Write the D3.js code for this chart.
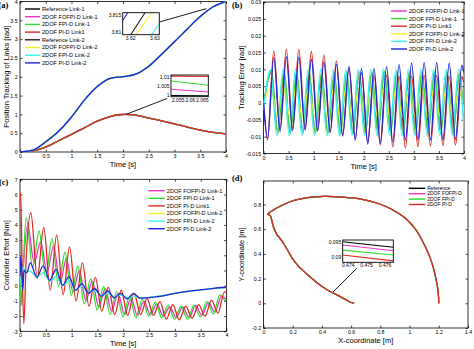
<!DOCTYPE html>
<html>
<head>
<meta charset="utf-8">
<script src="https://cdn.jsdelivr.net/npm/d3@7"></script>
<style>
  body { margin: 0; background: #fff; }
  svg { display: block; font-family: "Liberation Sans", Arial, sans-serif; }
</style>
</head>
<body>
<svg id="fig" width="474" height="349"></svg>
<script>
// ---- (a) position tracking, sampled points ----
const timeA = [0, 0.25, 0.5, 0.75, 1, 1.25, 1.5, 1.75, 1.9, 2.05, 2.25, 2.5, 2.75, 3, 3.25, 3.5, 3.75, 4];
const link1Pos = [0, 0.03, 0.13, 0.3, 0.47, 0.64, 0.82, 0.94, 0.99, 1.0, 0.98, 0.9, 0.83, 0.75, 0.66, 0.58, 0.52, 0.48];
const link2Pos = [0, 0.05, 0.27, 0.55, 0.93, 1.38, 1.74, 1.96, 1.99, 2.01, 2.07, 2.28, 2.6, 2.93, 3.27, 3.6, 3.86, 4.0];

// zoom windows of (a): [x, y] end points of each line inside the window
const zoomA1 = {
  ref2:   [[3.6200, 3.8093], [3.6259, 3.8157]],
  fofpi2: [[3.6222, 3.8093], [3.6286, 3.8157]],
  fpi2:   [[3.6286, 3.8093], [3.6350, 3.8157]],
  pid2:   [[3.6150, 3.8115], [3.6190, 3.8160]]
};
const zoomA2 = {
  ref1:   [[2.052, 1.0001], [2.0675, 0.9999]],
  fofpi1: [[2.052, 1.0035], [2.0675, 1.0020]],
  fpi1:   [[2.052, 1.0080], [2.0675, 1.0057]],
  pid1:   [[2.052, 1.0107], [2.0675, 1.0105]]
};

// ---- (b) tracking error: oscillation extrema, half period apart ----
const halfPeriod = 0.125;
const errPid1Trough = [-0.011, -0.0078, -0.0075, -0.0078, -0.008, -0.0085, -0.0095, -0.0105, -0.0115, -0.0125, -0.013, -0.0133, -0.013, -0.0128, -0.0127, -0.0125];
const errPid1Peak   = [0.0155, 0.016, 0.016, 0.0153, 0.0143, 0.0125, 0.0105, 0.009, 0.0083, 0.0082, 0.008, 0.008, 0.0082, 0.0082, 0.008, 0.0078];
const errPid2Trough = [-0.0105, -0.0085, -0.0082, -0.008, -0.0083, -0.0088, -0.0098, -0.011, -0.0122, -0.012, -0.0115, -0.011, -0.011, -0.011, -0.011, -0.0108];
const errPid2Peak   = [0.0135, 0.0137, 0.0136, 0.013, 0.0122, 0.0115, 0.0108, 0.0102, 0.0102, 0.0108, 0.0114, 0.0118, 0.012, 0.012, 0.0118, 0.0112];
const errFpi2Peak   = [0.0098, 0.0100, 0.0101, 0.0100, 0.0100, 0.0099, 0.0100, 0.0100, 0.0100, 0.0101, 0.0100, 0.0100, 0.0101, 0.0100, 0.0100, 0.0100];
const errFpi2Trough = [-0.0097, -0.0098, -0.0097, -0.0097, -0.0098, -0.0098, -0.0097, -0.0097, -0.0098, -0.0098, -0.0097, -0.0097, -0.0098, -0.0097, -0.0097];
const errFpi1Peak   = [0.0095, 0.0096, 0.0095, 0.0094, 0.0093, 0.0092, 0.0092, 0.0093, 0.0094, 0.0095, 0.0095, 0.0094, 0.0094, 0.0093, 0.0093, 0.0092];
const errFpi1Trough = [-0.0092, -0.0092, -0.0091, -0.0091, -0.0092, -0.0093, -0.0093, -0.0092, -0.0092, -0.0091, -0.0092, -0.0093, -0.0092, -0.0092, -0.0091];
const errFofpi1Peak   = [0.009, 0.009, 0.0089, 0.0089, 0.0088, 0.0088, 0.0088, 0.0089, 0.009, 0.009, 0.009, 0.0089, 0.0089, 0.0088, 0.0088, 0.0088];
const errFofpi1Trough = [-0.0088, -0.0088, -0.0087, -0.0087, -0.0088, -0.0088, -0.0088, -0.0088, -0.0088, -0.0087, -0.0088, -0.0088, -0.0088, -0.0087, -0.0087];
const errFofpi2Peak   = [0.0043, 0.0044, 0.0043, 0.0043, 0.0043, 0.0042, 0.0043, 0.0043, 0.0043, 0.0044, 0.0043, 0.0043, 0.0043, 0.0042, 0.0043, 0.0043];
const errFofpi2Trough = [-0.004, -0.004, -0.0041, -0.004, -0.004, -0.004, -0.0041, -0.004, -0.004, -0.004, -0.0041, -0.004, -0.004, -0.004, -0.004];

// ---- (c) controller effort: start-up transient, then extrema ----
const uPid1Head = [[0, 5.6], [0.012, 6.1], [0.04, 1.5], [0.075, -2.5], [0.12, 1.8]];
const uPid1Peak = [4.8, 3.85, 3.35, 2.55, 1.5, 0.55, -0.1, -0.3, -0.5, -0.85, -1.05, -1.25, -1.35, -1.25, -0.95, -0.4];
const uPid1Trough = [0.5, -0.3, -0.6, -1.0, -1.35, -1.67, -1.9, -1.95, -1.9, -1.95, -2.2, -2.25, -2.15, -2.0, -1.8];
const uFpi1Head = [[0, 0.3], [0.03, -1.3], [0.06, 1.0]];
const uFpi1Peak = [4.5, 3.6, 3.1, 2.2, 1.3, 0.45, -0.05, -0.4, -0.7, -0.9, -1.1, -1.3, -1.35, -1.3, -1.05, -0.6];
const uFpi1Trough = [1.2, 0.6, -0.05, -0.65, -1.2, -1.6, -1.9, -2.05, -2.1, -2.0, -2.1, -2.2, -2.2, -2.05, -1.85, -1.0];
const uFofpi1Head = [[0, 0.3], [0.03, -1.0], [0.07, 1.5]];
const uFofpi1Peak = [4.0, 2.9, 2.6, 1.8, 1.0, 0.3, -0.2, -0.5, -0.8, -1.0, -1.2, -1.4, -1.4, -1.3, -1.1, -0.7];
const uFofpi1Trough = [1.5, 0.9, 0.2, -0.4, -1.0, -1.4, -1.7, -1.9, -1.95, -1.9, -2.0, -2.1, -2.1, -1.95, -1.75];
const uPid2Head = [[0, 0.6], [0.012, 1.9], [0.03, 1.3], [0.05, -0.3], [0.08, 1.0], [0.13, 0.85]];
const uPid2Peak = [1.5, 1.3, 1.08, 0.6, 0.13, -0.2, -0.35, -0.5, -0.5];
const uPid2Trough = [0.55, 0.35, 0.02, -0.3, -0.5, -0.7, -0.8, -0.87, -0.82];
const uPid2Tail = [[2.45, -0.8], [2.75, -0.68], [3, -0.5], [3.25, -0.37], [3.5, -0.27], [3.75, -0.17], [4, -0.1]];
const uFpi2Head = [[0, 0.2], [0.02, 0.6], [0.05, 1.2], [0.1, 1.0]];
const uFpi2Peak = [0.95, 0.85, 0.6, 0.3, 0.0, -0.3, -0.5, -0.6, -0.68];
const uFpi2Trough = [0.6, 0.3, 0.0, -0.3, -0.5, -0.65, -0.75, -0.8, -0.8];
const uFpi2Tail = [[2.45, -0.78], [2.75, -0.65], [3, -0.5], [3.25, -0.38], [3.5, -0.28], [3.75, -0.18], [4, -0.12]];

// ---- (d) end-effector path in the x-y plane ----
const pathX = [1.2, 1.195, 1.18, 1.16, 1.13, 1.09, 1.04, 0.97, 0.88, 0.78, 0.66, 0.54, 0.41, 0.3, 0.2, 0.12, 0.06, 0.03,
  0.046, 0.057, 0.069, 0.09, 0.126, 0.16, 0.194, 0.24, 0.3, 0.366, 0.435, 0.5, 0.55, 0.595, 0.62];
const pathY = [0, 0.1, 0.2, 0.3, 0.4, 0.5, 0.6, 0.69, 0.76, 0.81, 0.845, 0.86, 0.865, 0.855, 0.83, 0.79, 0.75, 0.72,
  0.71, 0.67, 0.615, 0.56, 0.506, 0.44, 0.37, 0.30, 0.234, 0.166, 0.11, 0.07, 0.038, 0.008, 0];
const zoomD = {
  ref:   [[0.4737, 0.0952], [0.47645, 0.0933]],
  fofpi: [[0.4737, 0.0941], [0.47645, 0.0921]],
  fpi:   [[0.4737, 0.0923], [0.47645, 0.0906]],
  pid:   [[0.4737, 0.0906], [0.47645, 0.0886]]
};

const ticksT = d3.range(0, 4.01, 0.5);
const ticksPos = d3.range(0, 4.01, 0.5);
const ticksErr = [-0.015, -0.01, -0.005, 0, 0.005, 0.01, 0.015, 0.02, 0.025, 0.03];
const ticksU = d3.range(-3, 7.01, 1);
const ticksDX = [0, 0.2, 0.4, 0.6, 0.8, 1, 1.2, 1.4];
const ticksDY = [-0.2, 0, 0.2, 0.4, 0.6, 0.8];

const col = {
  ref1: '#000000', fofpi1: '#f032c8', fpi1: '#2ee02e', pid1: '#dd2a22',
  ref2: '#2a1a14', fofpi2: '#f2ee26', fpi2: '#34f0ee', pid2: '#1f24d8'
};

const svg = d3.select('#fig');
const fmt = d => String(+d.toFixed(4));

// interleave two lists of extrema into [t, v] points
function wave(head, tFirst, first, second, tail) {
  const pts = head.slice();
  for (let i = 0; i < first.length + second.length; i++) {
    const v = i % 2 === 0 ? first[i / 2] : second[(i - 1) / 2];
    if (v === undefined) break;
    const t = tFirst + i * halfPeriod;
    if (t > 4) break;
    pts.push([t, v]);
  }
  return pts.concat(tail);
}

function panel(id, box, xDom, yDom, xTicks, yTicks, xLabel, yLabel, yLabelX, tag) {
  const g = svg.append('g').attr('id', id);
  const x = d3.scaleLinear().domain(xDom).range([box.x0, box.x1]);
  const y = d3.scaleLinear().domain(yDom).range([box.y1, box.y0]);
  const axes = [
    [d3.axisBottom(x).tickValues(xTicks).tickFormat(fmt), `translate(0,${box.y1})`],
    [d3.axisTop(x).tickValues(xTicks).tickFormat(''), `translate(0,${box.y0})`],
    [d3.axisLeft(y).tickValues(yTicks).tickFormat(fmt), `translate(${box.x0},0)`],
    [d3.axisRight(y).tickValues(yTicks).tickFormat(''), `translate(${box.x1},0)`]
  ];
  axes.forEach(([ax, tr]) => {
    const a = g.append('g').attr('transform', tr)
      .call(ax.tickSizeInner(-2.5).tickSizeOuter(0).tickPadding(2.3));
    a.select('.domain').remove();
    a.attr('font-size', 5.3).attr('font-family', null);
    a.selectAll('line').attr('stroke-width', 0.7);
  });
  g.append('rect')
    .attr('x', box.x0).attr('y', box.y0)
    .attr('width', box.x1 - box.x0).attr('height', box.y1 - box.y0)
    .attr('fill', 'none').attr('stroke', '#000').attr('stroke-width', 0.8);
  g.append('text').attr('x', (box.x0 + box.x1) / 2).attr('y', box.y1 + 15)
    .attr('text-anchor', 'middle').attr('font-size', 7.5).text(xLabel);
  g.append('text')
    .attr('transform', `translate(${yLabelX},${(box.y0 + box.y1) / 2}) rotate(-90)`)
    .attr('text-anchor', 'middle').attr('font-size', 7.5).text(yLabel);
  g.append('text').attr('x', tag[0]).attr('y', tag[1])
    .attr('font-family', '"Liberation Serif", "Times New Roman", serif')
    .attr('font-weight', 'bold').attr('font-size', 8.5).text(tag[2]);
  const clipId = id + '-clip';
  g.append('clipPath').attr('id', clipId).append('rect')
    .attr('x', box.x0).attr('y', box.y0)
    .attr('width', box.x1 - box.x0).attr('height', box.y1 - box.y0);
  const plot = g.append('g').attr('clip-path', `url(#${clipId})`);
  return {g, x, y, plot};
}

function drawLines(p, series, width, curve) {
  const line = d3.line().x(d => p.x(d[0])).y(d => p.y(d[1])).curve(curve);
  p.plot.selectAll(null).data(series).enter().append('path')
    .attr('d', d => line(d.pts))
    .attr('fill', 'none')
    .attr('stroke', d => d.color)
    .attr('stroke-width', width)
    .attr('stroke-linejoin', 'round');
}

function legend(g, x, y, dy, names, colors, size, sampleW) {
  names.forEach((n, i) => {
    g.append('line').attr('x1', x).attr('x2', x + sampleW)
      .attr('y1', y + i * dy).attr('y2', y + i * dy)
      .attr('stroke', colors[i]).attr('stroke-width', 1.4);
    g.append('text').attr('x', x + sampleW + 2).attr('y', y + i * dy)
      .attr('dy', '0.35em').attr('font-size', size).text(n);
  });
}

// small magnified window with its own scales
function zoomBox(g, rect, xDom, yDom, lines, xTickVals, yTickVals, connectTo) {
  const x = d3.scaleLinear().domain(xDom).range([rect.x0, rect.x1]);
  const y = d3.scaleLinear().domain(yDom).range([rect.y1, rect.y0]);
  g.append('line')
    .attr('x1', connectTo[0][0]).attr('y1', connectTo[0][1])
    .attr('x2', connectTo[1][0]).attr('y2', connectTo[1][1])
    .attr('stroke', '#000').attr('stroke-width', 0.9);
  g.append('rect').attr('x', rect.x0).attr('y', rect.y0)
    .attr('width', rect.x1 - rect.x0).attr('height', rect.y1 - rect.y0)
    .attr('fill', '#fff');
  const cid = 'clip' + Math.round(rect.x0) + Math.round(rect.y0);
  g.append('clipPath').attr('id', cid).append('rect')
    .attr('x', rect.x0).attr('y', rect.y0)
    .attr('width', rect.x1 - rect.x0).attr('height', rect.y1 - rect.y0);
  const line = d3.line().x(d => x(d[0])).y(d => y(d[1]));
  g.append('g').attr('clip-path', `url(#${cid})`)
    .selectAll(null).data(lines).enter().append('path')
    .attr('d', d => line(d.pts)).attr('fill', 'none')
    .attr('stroke', d => d.color).attr('stroke-width', 1.1);
  g.append('rect').attr('x', rect.x0).attr('y', rect.y0)
    .attr('width', rect.x1 - rect.x0).attr('height', rect.y1 - rect.y0)
    .attr('fill', 'none').attr('stroke', '#000').attr('stroke-width', 0.9);
  xTickVals.forEach(v => {
    g.append('text').attr('x', x(v)).attr('y', rect.y1 + 5)
      .attr('text-anchor', 'middle').attr('font-size', 5).text(fmt(v));
  });
  yTickVals.forEach(v => {
    g.append('text').attr('x', rect.x0 - 1.5).attr('y', y(v)).attr('dy', '0.35em')
      .attr('text-anchor', 'end').attr('font-size', 5).text(fmt(v));
  });
}

// ---------- (a) ----------
const pa = panel('pa', {x0: 20, x1: 226, y0: 1.5, y1: 152}, [0, 4], [0, 4], ticksT, ticksPos,
  'Time [s]', 'Position Tracking of Links [rad]', 8.5, [-1.5, 8, '(a)']);
const pos1 = timeA.map((t, i) => [t, link1Pos[i]]);
const pos2 = timeA.map((t, i) => [t, link2Pos[i]]);
drawLines(pa, [
  {pts: pos1, color: col.ref1}, {pts: pos1, color: col.fofpi1}, {pts: pos1, color: col.fpi1}, {pts: pos1, color: col.pid1},
  {pts: pos2, color: col.ref2}, {pts: pos2, color: col.fofpi2}, {pts: pos2, color: col.fpi2}, {pts: pos2, color: col.pid2}
], 1.3, d3.curveMonotoneX);
legend(pa.g, 25, 9, 7.7,
  ['Reference Link-1', '2DOF FOFPI-D Link-1', '2DOF FPI-D Link-1', '2DOF PI-D Link1',
   'Reference Link-2', '2DOF FOFPI-D Link-2', '2DOF FPI-D Link-2', '2DOF PI-D Link-2'],
  [col.ref1, col.fofpi1, col.fpi1, col.pid1, col.ref2, col.fofpi2, col.fpi2, col.pid2], 5.6, 15);
zoomBox(pa.g, {x0: 122.7, x1: 159.3, y0: 12.7, y1: 34.7}, [3.6167, 3.6318], [3.8093, 3.8157],
  [{pts: zoomA1.pid2, color: col.pid2}, {pts: zoomA1.ref2, color: col.ref2},
   {pts: zoomA1.fofpi2, color: col.fofpi2}, {pts: zoomA1.fpi2, color: col.fpi2}],
  [3.62, 3.63], [3.81, 3.815],
  [[159.3, 22], [pa.x(3.62), pa.y(3.81)]]);
zoomBox(pa.g, {x0: 171, x1: 208.3, y0: 75, y1: 96.7}, [2.052, 2.0675], [0.99946, 1.0113],
  [{pts: zoomA2.pid1, color: col.pid1}, {pts: zoomA2.fpi1, color: col.fpi1},
   {pts: zoomA2.fofpi1, color: col.fofpi1}, {pts: zoomA2.ref1, color: col.ref1}],
  [2.055, 2.06, 2.065], [1, 1.005, 1.01],
  [[167, 98.5], [pa.x(2.06), pa.y(1.0)]]);

// ---------- (b) ----------
const pb = panel('pb', {x0: 263.5, x1: 464, y0: 2, y1: 153.5}, [0, 4], [-0.015, 0.03], ticksT, ticksErr,
  'Time [s]', 'Tracking Error [rad]', 244, [232, 8, '(b)']);
drawLines(pb, [
  {pts: wave([[0, 0]], 0.16, errFofpi1Peak, errFofpi1Trough, [[4, -0.006]]), color: col.fofpi1},
  {pts: wave([[0, -0.001]], 0.16, errFpi1Peak, errFpi1Trough, [[4, -0.006]]), color: col.fpi1},
  {pts: wave([[0, 0.0012]], 0.08, errPid1Trough, errPid1Peak, [[4, 0.006]]), color: col.pid1},
  {pts: wave([[0, 0]], 0.15, errFofpi2Peak, errFofpi2Trough, [[4, -0.003]]), color: col.fofpi2},
  {pts: wave([[0, -0.002]], 0.14, errFpi2Peak, errFpi2Trough, [[4, -0.008]]), color: col.fpi2},
  {pts: wave([[0, 0]], 0.08, errPid2Trough, errPid2Peak, [[4, 0.009]]), color: col.pid2}
], 1.3, d3.curveMonotoneX);
legend(pb.g, 391, 11, 7.6,
  ['2DOF FOFPI-D Link-1', '2DOF FPI-D Link-1', '2DOF PI-D Link1',
   '2DOF FOFPI-D Link-2', '2DOF FPI-D Link-2', '2DOF PI-D Link-2'],
  [col.fofpi1, col.fpi1, col.pid1, col.fofpi2, col.fpi2, col.pid2], 5.6, 16);

// ---------- (c) ----------
const pc = panel('pc', {x0: 20, x1: 226.5, y0: 179.3, y1: 331.3}, [0, 4], [-3, 7], ticksT, ticksU,
  'Time [s]', 'Controller Effort [Nm]', 8.5, [-1, 185, '(c)']);
drawLines(pc, [
  {pts: wave(uFofpi1Head, 0.15, uFofpi1Peak, uFofpi1Trough, [[4, -0.9]]), color: col.fofpi1},
  {pts: wave(uFpi1Head, 0.12, uFpi1Peak, uFpi1Trough, [[4, -1.0]]), color: col.fpi1},
  {pts: wave(uPid1Head, 0.21, uPid1Peak, uPid1Trough, [[4, -0.45]]), color: col.pid1},
  {pts: wave(uFpi2Head, 0.2, uFpi2Peak, uFpi2Trough, uFpi2Tail), color: col.fofpi2},
  {pts: wave(uFpi2Head, 0.2, uFpi2Peak, uFpi2Trough, uFpi2Tail), color: col.fpi2},
  {pts: wave(uPid2Head, 0.2, uPid2Peak, uPid2Trough, uPid2Tail), color: col.pid2}
], 1.3, d3.curveMonotoneX);
legend(pc.g, 148.3, 190.7, 7.6,
  ['2DOF FOFPI-D Link-1', '2DOF FPI-D Link-1', '2DOF PI-D Link1',
   '2DOF FOFPI-D Link-2', '2DOF FPI-D Link-2', '2DOF PI-D Link-2'],
  [col.fofpi1, col.fpi1, col.pid1, col.fofpi2, col.fpi2, col.pid2], 5.6, 16.5);

// ---------- (d) ----------
const pd = panel('pd', {x0: 263.5, x1: 468, y0: 181, y1: 328}, [0, 1.4], [-0.2, 0.99], ticksDX, ticksDY,
  'X-coordinate [m]', 'Y-coordinate [m]', 244, [232, 181, '(d)']);
const path = pathX.map((v, i) => [v, pathY[i]]);
drawLines(pd, [
  {pts: path, color: col.ref1}, {pts: path, color: col.fofpi1},
  {pts: path, color: col.fpi1}, {pts: path, color: col.pid1}
], 1.2, d3.curveCatmullRom);
legend(pd.g, 408.7, 188.3, 5.4, ['Reference', '2DOF FOFPI-D', '2DOF FPI-D', '2DOF PI-D'],
  [col.ref1, col.fofpi1, col.fpi1, col.pid1], 5, 16.5);
zoomBox(pd.g, {x0: 342.7, x1: 393.3, y0: 240, y1: 262.3}, [0.4737, 0.47645], [0.0881, 0.0958],
  [{pts: zoomD.ref, color: col.ref1}, {pts: zoomD.fofpi, color: col.fofpi1},
   {pts: zoomD.fpi, color: col.fpi1}, {pts: zoomD.pid, color: col.pid1}],
  [0.474, 0.475, 0.476], [0.09, 0.095],
  [[356.7, 268.3], [pd.x(0.475), pd.y(0.09)]]);
</script>
</body>
</html>
